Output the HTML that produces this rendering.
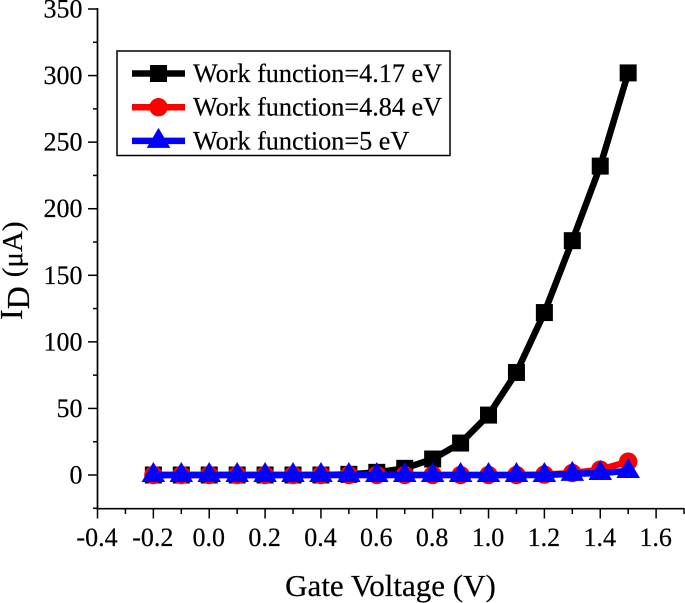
<!DOCTYPE html>
<html>
<head>
<meta charset="utf-8">
<style>
html,body{margin:0;padding:0;background:#fff;}
svg{display:block;}
text{font-family:"Liberation Serif",serif;fill:#000;stroke:#000;stroke-width:0.2px;}
</style>
</head>
<body>
<svg id="chart" xmlns="http://www.w3.org/2000/svg" width="685" height="603" viewBox="0 0 685 603"></svg>
<script>
const gateVoltage = [-0.2,-0.1,0.0,0.1,0.2,0.3,0.4,0.5,0.6,0.7,0.8,0.9,1.0,1.1,1.2,1.3,1.4,1.5];
const currentWf417 = [0,0,0,0,0,0,0,0.5,2,5,12,24,45,77,122,176,232,302];
const currentWf484 = [0,0,0,0,0,0,0,0,0,0,0,0,0,0,0.3,1.5,4,10];
const currentWf5 = [0,0,0,0,0,0,0,0,0,0,0,0,0,0,0,0.8,1.5,3];
const xTickLabels = ["-0.4","-0.2","0.0","0.2","0.4","0.6","0.8","1.0","1.2","1.4","1.6"];
const yTickLabels = ["0","50","100","150","200","250","300","350"];
const seriesNames = ["Work function=4.17 eV","Work function=4.84 eV","Work function=5 eV"];

const svg = document.getElementById('chart');
const NS = 'http://www.w3.org/2000/svg';
function sx(v){ return 97.5 + (v + 0.4) * 279.3; }
function sy(v){ return 475 - v * 1.3314; }
function make(tag, attrs, parent){
  const el = document.createElementNS(NS, tag);
  for (const k in attrs) el.setAttribute(k, attrs[k]);
  (parent || svg).appendChild(el);
  return el;
}
function marker(kind, x, y, color, parent){
  if (kind === 'square') return make('rect', {x:x-8.5, y:y-8.5, width:17, height:17, fill:color}, parent);
  if (kind === 'circle') return make('circle', {cx:x, cy:y, r:9.2, fill:color}, parent);
  return make('polygon', {points:(x)+','+(y-13)+' '+(x+11.8)+','+(y+7)+' '+(x-11.8)+','+(y+7), fill:color}, parent);
}

// axes
const axisLeft = make('line', {x1:97.5, y1:8, x2:97.5, y2:509.5, stroke:'#000', 'stroke-width':1.7});


const axisBottom = make('line', {x1:96.7, y1:508.7, x2:684.5, y2:508.7, stroke:'#000', 'stroke-width':1.7});



// x ticks
xTickLabels.forEach(function(lbl){
  const v = parseFloat(lbl);
  const t = make('line', {x1:sx(v), y1:508.7, x2:sx(v), y2:518.5, stroke:'#000', 'stroke-width':1.5});
  
  
  const m = make('line', {x1:sx(v+0.1), y1:508.7, x2:sx(v+0.1), y2:514, stroke:'#000', 'stroke-width':1.5});
  
  
  const tx = make('text', {x:sx(v)-0.5, y:546, 'font-size':26, 'text-anchor':'middle'});
  tx.textContent = lbl;
  
  
});

// y ticks
yTickLabels.forEach(function(lbl){
  const v = parseFloat(lbl);
  const t = make('line', {x1:88, y1:sy(v), x2:97.5, y2:sy(v), stroke:'#000', 'stroke-width':1.5});
  
  
  const m = make('line', {x1:93, y1:sy(v-25), x2:97.5, y2:sy(v-25), stroke:'#000', 'stroke-width':1.5});
  
  
  const tx = make('text', {x:82.5, y:sy(v)+8.5, 'font-size':26, 'text-anchor':'end'});
  tx.textContent = lbl;
  
  
});

// series
const seriesList = [
  {vals:currentWf417, color:'#000', kind:'square', name:'work-function-4-17'},
  {vals:currentWf484, color:'#f00', kind:'circle', name:'work-function-4-84'},
  {vals:currentWf5, color:'#00f', kind:'triangle', name:'work-function-5'}
];
seriesList.forEach(function(s){
  const g = make('g', {});
  
  
  const pts = s.vals.map(function(v,i){ return sx(gateVoltage[i]) + ',' + sy(v); }).join(' ');
  const line = make('polyline', {points:pts, fill:'none', stroke:s.color, 'stroke-width':6.5, 'stroke-linejoin':'round'}, g);
  
  
  s.vals.forEach(function(v,i){
    const mk = marker(s.kind, sx(gateVoltage[i]), sy(v), s.color, g);
    
    
  });
});

// legend
const legend = make('g', {});


const legendBox = make('rect', {x:117, y:51, width:333, height:104.5, fill:'#fff', stroke:'#000', 'stroke-width':1.5}, legend);


seriesList.forEach(function(s,i){
  const y = 73.5 + i * 33.7;
  const entry = make('g', {}, legend);
  
  
  make('line', {x1:132, y1:y, x2:185, y2:y, stroke:s.color, 'stroke-width':6.5}, entry);
  marker(s.kind, 158.5, y, s.color, entry);
  const tx = make('text', {x:193, y:y+8.5, 'font-size':26.2}, entry);
  tx.textContent = seriesNames[i];
});

// x title
const xTitle = make('text', {x:390.5, y:596, 'font-size':31, 'text-anchor':'middle'});
xTitle.textContent = 'Gate Voltage (V)';



// y title
const yTitle = make('text', {transform:'translate(22,320) rotate(-90)', 'font-size':32});


const t1 = make('tspan', {}, yTitle); t1.textContent = 'I';
const t2 = make('tspan', {dy:7, 'font-size':32}, yTitle); t2.textContent = 'D';
const t3 = make('tspan', {dy:-7, dx:9, 'font-size':29}, yTitle); t3.textContent = '(μA)';
</script>
</body>
</html>
